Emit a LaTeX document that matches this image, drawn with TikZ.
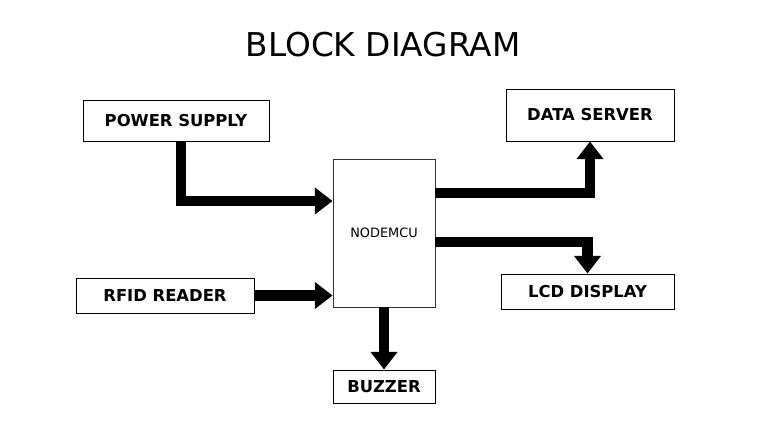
\documentclass[tikz,border=0pt]{standalone}
\usepackage{fontspec}
\setmainfont{DejaVu Sans}
\usetikzlibrary{arrows.meta}
\tikzset{
  blk/.style={draw=black, thick, fill=white, inner sep=0pt, font=\bfseries\fontsize{14}{16}\selectfont},
  flow/.style={line width=9pt, -{Triangle[width=22pt,length=15pt]}}
}
\begin{document}
\begin{tikzpicture}[x=0.03cm, y=-0.03cm]
 \useasboundingbox (0,0) rectangle (768,433);
 \node[font=\fontsize{28}{32}\selectfont] (title) at (383,45) {BLOCK DIAGRAM};
 % blocks
 \node[blk, minimum width=186*0.03cm, minimum height=41*0.03cm] (P) at (176,120.5) {POWER SUPPLY};
 \node[blk, minimum width=168*0.03cm, minimum height=52*0.03cm] (S) at (590,115) {DATA SERVER};
 \node[blk, draw=black!80, minimum width=102*0.03cm, minimum height=148*0.03cm, font=\fontsize{11}{13}\selectfont] (N) at (384,233) {NODEMCU};
 \node[blk, minimum width=178*0.03cm, minimum height=35*0.03cm] (R) at (165,295.5) {RFID READER};
 \node[blk, minimum width=173*0.03cm, minimum height=35*0.03cm] (L) at (587.5,291.5) {LCD DISPLAY};
 \node[blk, minimum width=102*0.03cm, minimum height=33*0.03cm] (B) at (384,386.5) {BUZZER};
 % arrows
 \draw[flow] (P.south -| 181,0) |- (N.west |- 0,201);
 \draw[flow] (R.east) -- (N.west |- R.east);
 \draw[flow] (N.south) -- (B.north);
 \draw[flow] (N.east |- 0,193) -| (S.south);
 \draw[flow] (N.east |- 0,242) -| (L.north);
\end{tikzpicture}
\end{document}
